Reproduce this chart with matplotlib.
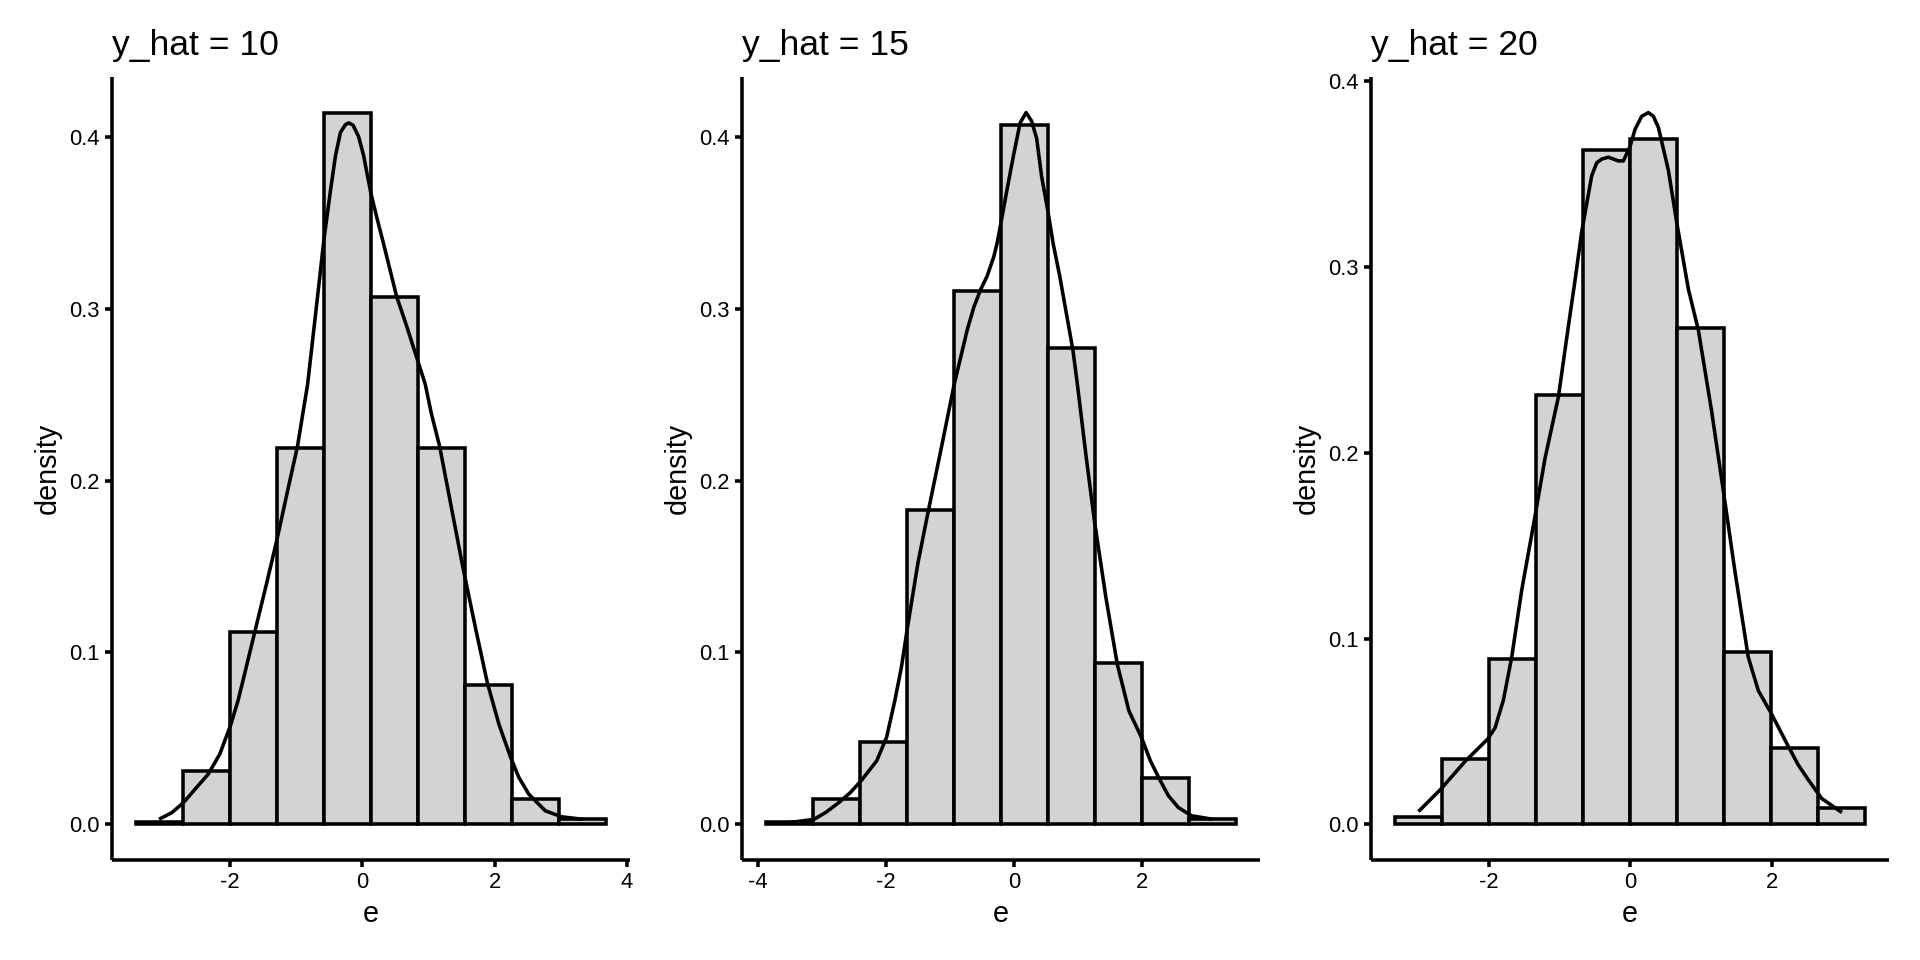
import numpy as np
import matplotlib
matplotlib.use("Agg")
import matplotlib.pyplot as plt

plt.rcParams['font.family'] = ['Liberation Sans', 'DejaVu Sans']

# ---------------- data ----------------
titles = ["y_hat = 10", "y_hat = 15", "y_hat = 20"]

# histogram: left edge of first bin, bin width, bar heights (density)
bin_start_10 = -3.434
bin_width_10 = 0.7126
heights_10 = [0.0015, 0.031, 0.112, 0.219, 0.414, 0.307, 0.219, 0.081, 0.015, 0.003]

bin_start_15 = -3.879
bin_width_15 = 0.7358
heights_15 = [0.0015, 0.015, 0.048, 0.183, 0.310, 0.407, 0.277, 0.094, 0.027, 0.003]

bin_start_20 = -3.332
bin_width_20 = 0.6659
heights_20 = [0.004, 0.035, 0.089, 0.231, 0.363, 0.369, 0.267, 0.093, 0.041, 0.009]

# density curves
kde_x_10 = [-3.078, -2.883, -2.708, -2.533, -2.333, -2.158, -1.993, -1.883, -1.783, -1.623,
            -1.458, -1.298, -1.133, -0.983, -0.830, -0.668, -0.584, -0.483, -0.408, -0.333,
            -0.258, -0.208, -0.143, -0.058, 0.017, 0.077, 0.128, 0.217, 0.317, 0.517, 0.667,
            0.817, 0.950, 1.042, 1.167, 1.342, 1.517, 1.717, 1.892, 2.067, 2.242, 2.367,
            2.517, 2.767, 3.017, 3.336]
kde_y_10 = [0.003, 0.0069, 0.0127, 0.0205, 0.0293, 0.041, 0.058, 0.072, 0.0876, 0.113,
            0.139, 0.165, 0.194, 0.220, 0.256, 0.311, 0.340, 0.369, 0.389, 0.4025,
            0.407, 0.408, 0.4067, 0.400, 0.389, 0.377, 0.367, 0.353, 0.338, 0.307, 0.290,
            0.272, 0.256, 0.239, 0.220, 0.185, 0.150, 0.113, 0.082, 0.058, 0.039, 0.0273,
            0.0176, 0.0079, 0.0044, 0.003]

kde_x_15 = [-3.511, -3.121, -2.941, -2.734, -2.555, -2.385, -2.142, -1.988, -1.859, -1.756,
            -1.668, -1.498, -1.343, -1.138, -0.931, -0.828, -0.725, -0.623, -0.519, -0.416,
            -0.314, -0.261, -0.200, -0.107, -0.005, 0.099, 0.192, 0.279, 0.357, 0.434, 0.536,
            0.614, 0.717, 0.820, 0.923, 0.990, 1.130, 1.258, 1.439, 1.618, 1.799, 1.995,
            2.134, 2.263, 2.417, 2.572, 2.778, 3.111]
kde_y_15 = [0.001, 0.003, 0.0069, 0.0127, 0.0185, 0.0254, 0.037, 0.0506, 0.072, 0.0914,
            0.113, 0.152, 0.181, 0.218, 0.256, 0.272, 0.288, 0.301, 0.311, 0.319,
            0.330, 0.338, 0.350, 0.369, 0.389, 0.408, 0.414, 0.409, 0.399, 0.377, 0.356,
            0.338, 0.319, 0.2975, 0.276, 0.257, 0.214, 0.177, 0.132, 0.093, 0.066, 0.0506,
            0.037, 0.0273, 0.0166, 0.0098, 0.005, 0.003]

kde_x_20 = [-2.994, -2.677, -2.333, -2.013, -1.910, -1.792, -1.675, -1.534, -1.345, -1.204,
            -1.015, -0.874, -0.779, -0.685, -0.544, -0.473, -0.402, -0.308, -0.167, -0.096,
            0.0, 0.069, 0.163, 0.257, 0.328, 0.399, 0.540, 0.658, 0.823, 0.964, 1.153,
            1.327, 1.482, 1.670, 1.812, 1.991, 2.236, 2.377, 2.519, 2.707, 2.994]
kde_y_20 = [0.0069, 0.019, 0.034, 0.046, 0.052, 0.067, 0.090, 0.126, 0.166, 0.197,
            0.230, 0.268, 0.293, 0.319, 0.349, 0.356, 0.358, 0.359, 0.357, 0.357,
            0.365, 0.374, 0.381, 0.383, 0.381, 0.375, 0.352, 0.324, 0.288, 0.266, 0.222,
            0.177, 0.136, 0.090, 0.072, 0.060, 0.042, 0.032, 0.024, 0.014, 0.0064]

x_ticks_10 = [-2, 0, 2, 4]
x_ticks_15 = [-4, -2, 0, 2]
x_ticks_20 = [-2, 0, 2]
y_ticks = [0.0, 0.1, 0.2, 0.3, 0.4]
y_tick_labels = ["0.0", "0.1", "0.2", "0.3", "0.4"]

panels = [
    (titles[0], bin_start_10, bin_width_10, heights_10, kde_x_10, kde_y_10, x_ticks_10),
    (titles[1], bin_start_15, bin_width_15, heights_15, kde_x_15, kde_y_15, x_ticks_15),
    (titles[2], bin_start_20, bin_width_20, heights_20, kde_x_20, kde_y_20, x_ticks_20),
]

# ---------------- figure ----------------
DPI = 180
fig = plt.figure(figsize=(1920 / DPI, 960 / DPI), dpi=DPI, facecolor="white")

lefts = [112 / 1920, 742 / 1920, 1371 / 1920]
ax_w = 518 / 1920
bottom = 1 - 860 / 960
ax_h = (860 - 77) / 960

LW = 0.5 * 72.27 / 25.4  # ggplot linewidth 0.5

for i, (title, b0, bw, h, kx, ky, xt) in enumerate(panels):
    ax = fig.add_axes([lefts[i], bottom, ax_w, ax_h])
    n = len(h)
    edges = b0 + bw * np.arange(n + 1)
    ax.bar(edges[:-1], h, width=bw, align="edge", color="#D3D3D3",
           edgecolor="black", linewidth=LW, zorder=2)
    ax.plot(kx, ky, color="black", linewidth=LW, zorder=3, solid_capstyle="butt",
            solid_joinstyle="round")

    xmin, xmax = edges[0], edges[-1]
    xr = xmax - xmin
    ax.set_xlim(xmin - 0.05 * xr, xmax + 0.05 * xr)
    ymax = max(max(h), max(ky))
    ax.set_ylim(-0.05 * ymax, ymax * 1.05)

    ax.set_xticks(xt)
    ax.set_xticklabels([str(v) for v in xt])
    ax.set_yticks(y_ticks)
    ax.set_yticklabels(y_tick_labels)

    for side in ("top", "right"):
        ax.spines[side].set_visible(False)
    for side in ("left", "bottom"):
        ax.spines[side].set_linewidth(LW)
        ax.spines[side].set_color("black")
        ax.spines[side].set_capstyle("butt")

    ax.tick_params(axis="both", which="major", length=2.75, width=LW, color="black",
                   labelsize=8.8, labelcolor="black", pad=2.2, direction="out")

    ax.set_xlabel("e", fontsize=11.5, labelpad=2.5)
    ax.set_ylabel("density", fontsize=11.5, labelpad=3)
    ax.set_title(title, loc="left", fontsize=14.2, pad=8.8)

fig.savefig("out.png", dpi=DPI, facecolor="white")
